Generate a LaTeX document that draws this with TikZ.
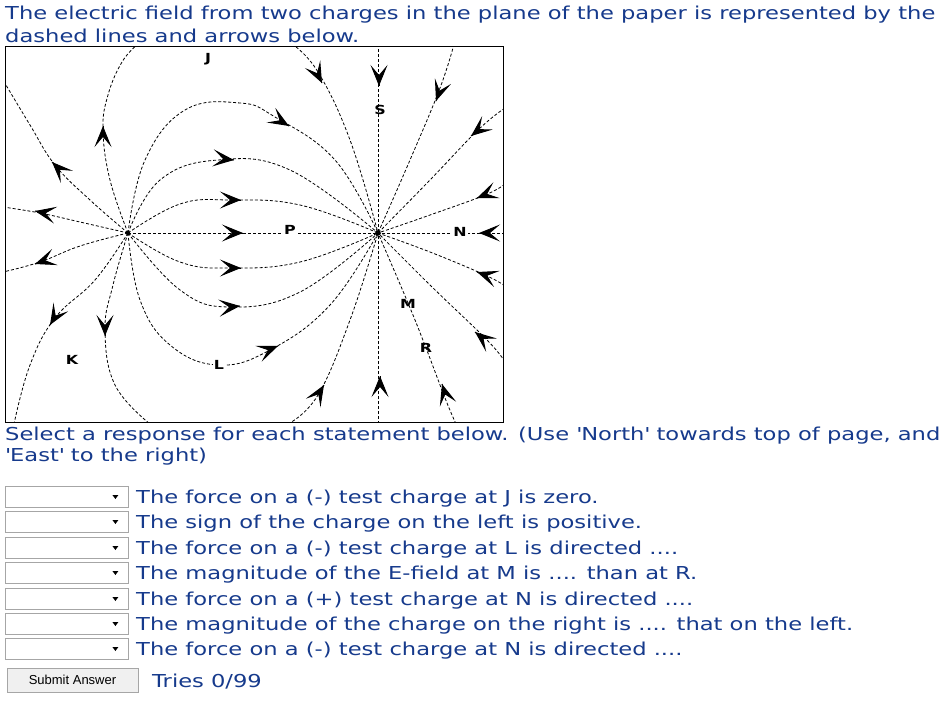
\documentclass[tikz,border=0pt]{standalone}
\usepackage{fontspec}
\setmainfont[FakeStretch=1.27]{DejaVu Sans}
\newfontfamily\btnfont{Liberation Sans}
\usetikzlibrary{arrows.meta,calc}
\definecolor{txt}{RGB}{22,58,140}
\begin{document}
\begin{tikzpicture}[x=1pt,y=-1pt,
  fl/.style={line width=0.8pt,dash pattern=on 3pt off 2pt},
  tipst/.style={line width=1pt,-{Stealth[length=21pt,width=17pt,inset=10pt]}},
  lbl/.style={font=\fontsize{12.5}{12.5}\selectfont\bfseries},
  para/.style={anchor=west,inner sep=0pt,text=txt,font=\fontsize{17.8}{20}\selectfont},
  sel/.style={draw=gray!70,fill=white,minimum width=123pt,minimum height=21pt,inner sep=0pt,anchor=west}]
\newcommand\arw[4]{\draw[tipst] ({#1-0.05*(#3)},{#2-0.05*(#4)}) -- (#1,#2);}
\useasboundingbox (0,0) rectangle (947,707);
\fill[white] (0,0) rectangle (947,707);
\node[para] (t1) at (5,15) {The electric field from two charges in the plane of the paper is represented by the};
\node[para] (t2) at (5,36) {dashed lines and arrows below.};
\draw[line width=0.8pt] (5,46) rectangle (503,422);
\coordinate (L) at (128,233);
\coordinate (R) at (378,233);
\begin{scope}
\clip (5,46) rectangle (503,422);
\draw[fl] plot[smooth,tension=0.7] coordinates{(128,233)(110,180)(103,130)(108,95)(122,62)(138,44)};
\draw[fl] plot[smooth,tension=0.7] coordinates{(128,233)(90,200)(55,165)(30,125)(3,80)};
\draw[fl] plot[smooth,tension=0.7] coordinates{(128,233)(80,222)(40,213)(3,207)};
\draw[fl] plot[smooth,tension=0.7] coordinates{(128,233)(80,246)(40,262)(3,272)};
\draw[fl] plot[smooth,tension=0.7] coordinates{(128,233)(95,280)(55,318)(30,365)(14,424)};
\draw[fl] plot[smooth,tension=0.7] coordinates{(128,233)(113,285)(105,330)(115,385)(150,424)};
\draw[fl] plot[smooth,tension=0.7] coordinates{(128,233)(140,300)(170,345)(218,365)(270,350)(330,305)(378,233)};
\draw[fl] plot[smooth,tension=0.7] coordinates{(128,233)(180,290)(230,307)(300,292)(378,233)};
\draw[fl] plot[smooth,tension=0.7] coordinates{(128,233)(180,262)(230,268)(300,262)(378,233)};
\draw[fl] (L) -- (R);
\draw[fl] plot[smooth,tension=0.7] coordinates{(128,233)(180,204)(230,200)(300,205)(378,233)};
\draw[fl] plot[smooth,tension=0.7] coordinates{(128,233)(160,180)(218,160)(290,170)(378,233)};
\draw[fl] plot[smooth,tension=0.7] coordinates{(128,233)(145,160)(185,110)(240,103)(275,117)(335,160)(378,233)};
\draw[fl] plot[smooth,tension=0.7] coordinates{(292,44)(318,72)(350,140)(378,233)};
\draw[fl] (378,44) -- (R);
\draw[fl] plot[smooth,tension=0.7] coordinates{(454,44)(440,88)(410,160)(378,233)};
\draw[fl] plot[smooth,tension=0.7] coordinates{(505,108)(478,130)(430,180)(378,233)};
\draw[fl] plot[smooth,tension=0.7] coordinates{(505,184)(485,195)(430,215)(378,233)};
\draw[fl] (505,233) -- (R);
\draw[fl] plot[smooth,tension=0.7] coordinates{(505,286)(485,275)(430,252)(378,233)};
\draw[fl] plot[smooth,tension=0.7] coordinates{(505,362)(487,340)(430,285)(378,233)};
\draw[fl] plot[smooth,tension=0.7] coordinates{(456,424)(445,398)(426,348)(408,303)(378,233)};
\draw[fl] (378,424) -- (R);
\draw[fl] plot[smooth,tension=0.7] coordinates{(288,424)(318,395)(350,320)(378,233)};
\end{scope}
\fill (L) circle (2.2pt);
\fill (R) circle (2.8pt);
\arw{103}{126}{0}{-1}
\arw{52}{162}{-1}{-1}
\arw{35}{211}{-1}{-0.2}
\arw{35}{264}{-1}{0.35}
\arw{50}{325}{-0.6}{1}
\arw{105}{336}{0}{1}
\arw{278}{346}{1}{-0.4}
\arw{240}{306}{1}{-0.1}
\arw{241}{268}{1}{0}
\arw{243}{233}{1}{0}
\arw{241}{200}{1}{0}
\arw{234}{160}{1}{0.1}
\arw{289}{126}{1}{0.6}
\arw{322}{83}{0.5}{1}
\arw{379}{86}{0}{1}
\arw{436}{101}{-0.35}{1}
\arw{471}{136}{-1}{0.8}
\arw{477}{198}{-1}{0.4}
\arw{479}{233}{-1}{0}
\arw{477}{272}{-1}{-0.35}
\arw{475}{332}{-1}{-0.8}
\arw{442}{384}{-0.3}{-1}
\arw{380}{376}{0}{-1}
\arw{324}{385}{0.6}{-1}
\node[lbl] (J) at (208,59) {J};
\node[lbl] (S) at (380,110) {S};
\node[lbl,fill=white,inner sep=1pt] (P) at (290,230) {P};
\node[lbl,fill=white,inner sep=1pt] (N) at (460,232) {N};
\node[lbl] (M) at (408,304) {M};
\node[lbl] (Rr) at (426,348) {R};
\node[lbl] (K) at (72,360) {K};
\node[lbl,fill=white,inner sep=1pt] (Ll) at (219,365) {L};
\node[para] (t3) at (5,436) {Select a response for each statement below. (Use \textquotesingle North\textquotesingle\ towards top of page, and};
\node[para] (t4) at (5,457) {\textquotesingle East\textquotesingle\ to the right)};
\foreach \y/\s [count=\i] in {497/{The force on a (-) test charge at J is zero.},
  522/{The sign of the charge on the left is positive.},
  548/{The force on a (-) test charge at L is directed ....},
  573/{The magnitude of the E-field at M is .... than at R.},
  599/{The force on a (+) test charge at N is directed ....},
  624/{The magnitude of the charge on the right is .... that on the left.},
  649/{The force on a (-) test charge at N is directed ....}}{
  \node[sel] (s\i) at (5,\y) {};
  \fill ($(s\i.east)+(-16,-2)$) -- ++(6,0) -- ++(-3,4) -- cycle;
  \node[para] (q\i) at (136,\y+2) {\s};
}
\node[draw=gray!70,fill=gray!12,minimum width=131pt,minimum height=24pt,inner sep=0pt,font=\fontsize{13}{13}\selectfont\btnfont] (btn) at (72.5,680) {Submit Answer};
\node[para] (tries) at (152,682) {Tries 0/99};
\end{tikzpicture}
\end{document}
